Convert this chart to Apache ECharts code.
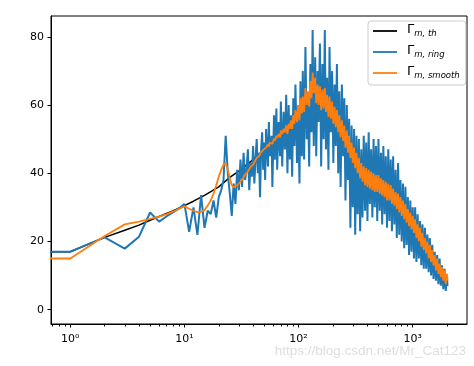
<!DOCTYPE html>
<html>
<head>
<meta charset="utf-8">
<script src="https://cdn.jsdelivr.net/npm/echarts@6/dist/echarts.min.js"></script>
<style>html,body{margin:0;padding:0;background:#fff}#c{width:474px;height:366px}</style>
</head>
<body>
<div id="c"></div>
<script>
// ---- data ----
// m = 0 cannot sit on a log axis; it is placed left of the axis minimum (clipped), as in the original.
const thM = [0.5, 1, 2, 3, 4, 5, 6, 8, 10, 12, 15, 20, 25, 30, 40, 50, 60, 80, 100, 120, 150, 180, 220, 270, 330, 400, 500, 650, 800, 1000, 1250, 1500, 1750, 2023];
const thVal = [17, 17, 21.2, 23.3, 24.8, 26.2, 27.3, 29, 30.5, 31.8, 33.5, 36, 38.8, 40.6, 44, 47, 49.7, 53.8, 57.5, 61, 63, 61, 57, 50, 45, 40, 38, 35, 32, 26, 21, 16.5, 12.5, 7];

const mGrid = [0.5,
  1, 2, 3, 4, 5, 6, 7, 8, 9, 10,
  11, 12, 13, 14, 15, 16, 17, 18, 19, 20,
  21, 22, 23, 24, 25, 26, 27, 28, 29, 30,
  31, 32, 33, 34, 35, 36, 37, 38, 39, 40,
  41, 42, 43, 44, 45, 46, 47, 48, 49, 50, 51, 52,
  54, 55, 56, 58, 59, 61, 62, 64, 65, 67,
  69, 70, 72, 74, 76, 78, 80, 82, 84, 86,
  88, 90, 92, 94, 97, 99, 102, 104, 107, 109,
  112, 115, 118, 121, 124, 127, 130, 133, 136, 140,
  143, 147, 150, 154, 158, 162, 166, 170, 174, 178,
  183, 187, 192, 197, 202, 207, 212, 217, 223, 228,
  234, 240, 246, 252, 258, 265, 271, 278, 285, 292,
  299, 307, 314, 322, 330, 338, 347, 355, 364, 373,
  383, 392, 402, 412, 422, 433, 444, 455, 466, 478,
  490, 502, 515, 528, 541, 554, 568, 582, 597, 612,
  627, 643, 659, 675, 692, 710, 727, 746, 764, 783,
  803, 823, 844, 865, 886, 909, 931, 955, 978, 1003,
  1028, 1053, 1080, 1107, 1134, 1163, 1192, 1221, 1252, 1283,
  1315, 1348, 1382, 1416, 1452, 1488, 1525, 1563, 1602, 1642,
  1683, 1725, 1768, 1812, 1858, 1904, 1952, 2000, 2023];

const ringVal = [17,
  17, 21.2, 17.9, 21.4, 28.5, 25.8, 27.4, 28.6, 29.7, 31,
  22.8, 30, 21.9, 33.6, 24, 29, 28, 32, 27, 33,
  35, 38, 51, 40, 34, 27.5, 37, 31, 41, 35,
  44, 36, 46, 38, 41, 47, 35, 43, 39, 48,
  37, 44, 50, 40, 46, 33, 47, 52, 41, 49, 38, 53,
  42, 55, 45, 51, 36, 57, 44, 59, 41, 55,
  45, 61, 42, 58, 47, 63, 40, 60, 44, 57,
  39, 62, 48, 66, 43, 60, 37, 67, 45, 70,
  44, 77, 50, 62, 42, 72, 52, 82, 48, 74,
  45, 70, 55, 78, 42, 72, 50, 82, 47, 68,
  41, 77, 52, 70, 43, 66, 48, 72, 40, 64,
  36, 66, 45, 62, 32, 60, 38, 56, 24, 54,
  30, 53, 22, 51, 28, 50, 23, 47, 27, 51,
  29, 49, 26, 52, 31, 47, 27, 50, 30, 48,
  26, 50, 29, 46, 25, 48, 28, 45, 24, 47,
  26, 44, 23, 45, 25, 41, 21, 43, 22, 38,
  20, 37, 18, 36, 19, 33, 16, 32, 17, 30,
  15, 30, 14, 28, 15, 26, 13, 25, 12, 24,
  12, 22, 11, 21, 10, 19, 9, 17, 8.5, 16,
  7.5, 15, 7, 13, 6, 12, 5.5, 10, 7];

const smoothVal = [15,
  15, 21.6, 25, 25.8, 26.6, 27.3, 28, 28.8, 29.6, 30.3,
  29.6, 29, 28.6, 28.7, 29.2, 30.5, 32, 34, 36.5, 39,
  41, 42.5, 43, 41, 38.5, 36.5, 35.8, 36, 36.5, 37,
  37.5, 38, 38.8, 39.5, 40, 40.5, 41.2, 41.8, 42, 42.5,
  43, 43.8, 44.5, 44.2, 45, 45.5, 46.2, 46, 46.8, 47.2, 47, 47.5,
  48.5, 47.8, 49, 49.5, 48.6, 50.2, 49.5, 51, 50.3, 51.5,
  50.5, 52.5, 51.5, 53, 52, 54, 51.5, 54.5, 53, 55.5,
  53, 57, 54.5, 58.5, 55, 60, 55.5, 62, 57.5, 62.5,
  58, 65, 60, 64, 59.5, 67, 62, 69.5, 63.5, 68,
  60.5, 66, 60, 65.5, 58.5, 64.5, 59, 65, 58, 63,
  56.5, 62.5, 56, 61, 54.5, 59.5, 53.5, 58.5, 52, 57,
  50.5, 55.5, 49.5, 54, 47.5, 52.5, 46, 51, 44.5, 49,
  43, 47.5, 41.5, 46, 40, 44.5, 38.5, 43, 37.5, 42,
  36.5, 41.5, 36, 41, 35.5, 40.5, 35, 40, 34.5, 39.5,
  34.5, 39.5, 34, 38.5, 33.5, 38, 33, 37.5, 32, 37,
  32, 36.5, 31, 35.5, 30.5, 34.5, 29.5, 34, 28.5, 33,
  27.5, 32, 26.5, 31, 25.5, 29.5, 24.5, 28.5, 23.5, 27.5,
  22.5, 26.5, 21, 25, 20, 24, 18.5, 22.5, 17.5, 21,
  16.5, 20, 15, 19, 14, 17.5, 13, 16, 11.5, 15,
  10.5, 13.5, 9.5, 12.5, 8.5, 11.5, 7.5, 10.5, 8.5];

const seriesNames = ['th', 'ring', 'smooth'];
const xTickValues = [1, 10, 100, 1000];
const xTickLabels = ['10\u2070', '10\u00b9', '10\u00b2', '10\u00b3'];
const xMinorTicks = [0.7, 0.8, 0.9, 2, 3, 4, 5, 6, 7, 8, 9, 20, 30, 40, 50, 60, 70, 80, 90,
  200, 300, 400, 500, 600, 700, 800, 900, 2000];
const yTickValues = [0, 20, 40, 60, 80];

// ---- chart ----
const pairs = (xs, ys) => xs.map((x, i) => [x, ys[i]]);
const chart = echarts.init(document.getElementById('c'), null, {renderer: 'canvas'});
const font = 'DejaVu Sans';
chart.setOption({
  animation: false,
  backgroundColor: '#ffffff',
  grid: {left: 51, right: 7, top: 16, bottom: 42, show: true, borderColor: '#000', borderWidth: 1, backgroundColor: '#fff'},
  xAxis: [{
    type: 'log', logBase: 10, min: 0.677, max: 2998, position: 'bottom',
    axisLine: {show: true, onZero: false, lineStyle: {color: '#000', width: 1}},
    axisTick: {show: true, length: 3.5, customValues: xTickValues, lineStyle: {color: '#000', width: 1}},
    axisLabel: {show: true, customValues: xTickValues, margin: 10, fontSize: 11, fontFamily: font, color: '#000',
      formatter: v => xTickLabels[Math.round(Math.log10(v))]},
    splitLine: {show: false}, minorTick: {show: false}
  }, {
    type: 'log', logBase: 10, min: 0.677, max: 2998, position: 'bottom',
    axisLine: {show: false, onZero: false},
    axisTick: {show: true, length: 2.5, customValues: xMinorTicks, lineStyle: {color: '#000', width: 1}},
    axisLabel: {show: false}, splitLine: {show: false}
  }],
  yAxis: {
    type: 'value', min: -4.2, max: 86.1,
    axisLine: {show: true, lineStyle: {color: '#000', width: 1}},
    axisTick: {show: true, length: 3.5, customValues: yTickValues, lineStyle: {color: '#000', width: 1}},
    axisLabel: {show: true, customValues: yTickValues, margin: 7, fontSize: 11, fontFamily: font, color: '#000'},
    splitLine: {show: false}
  },
  legend: {
    orient: 'vertical', left: 368, top: 21,
    padding: [2.5, 6, 4.5, 5], itemGap: 6, itemWidth: 24, itemHeight: 1.8, icon: 'rect',
    backgroundColor: 'rgba(255,255,255,0.8)', borderColor: '#cccccc', borderWidth: 1, borderRadius: 3,
    data: seriesNames,
    formatter: n => '{g|\u0393}{s|m, ' + n + '}',
    textStyle: {
      color: '#000', fontFamily: font,
      rich: {
        g: {fontSize: 13, fontFamily: font, lineHeight: 15, verticalAlign: 'top', padding: [0, 0, 0, 5], color: '#000'},
        s: {fontSize: 8.5, fontFamily: font, fontStyle: 'italic', lineHeight: 6, verticalAlign: 'bottom', color: '#000'}
      }
    }
  },
  graphic: [{
    type: 'text', right: 8, top: 344,
    style: {text: 'https://blog.csdn.net/Mr_Cat123', fill: '#dedede', font: '13.5px "Liberation Sans"'}
  }],
  series: [
    {name: 'th', type: 'line', data: pairs(thM, thVal), showSymbol: false, symbol: 'none', clip: true,
      color: '#000000', lineStyle: {color: '#000000', width: 1.5}},
    {name: 'ring', type: 'line', data: pairs(mGrid, ringVal), showSymbol: false, symbol: 'none', clip: true,
      color: '#1f77b4', lineStyle: {color: '#1f77b4', width: 2}},
    {name: 'smooth', type: 'line', data: pairs(mGrid, smoothVal), showSymbol: false, symbol: 'none', clip: true,
      color: '#ff7f0e', lineStyle: {color: '#ff7f0e', width: 1.8}}
  ]
});
</script>
</body>
</html>
